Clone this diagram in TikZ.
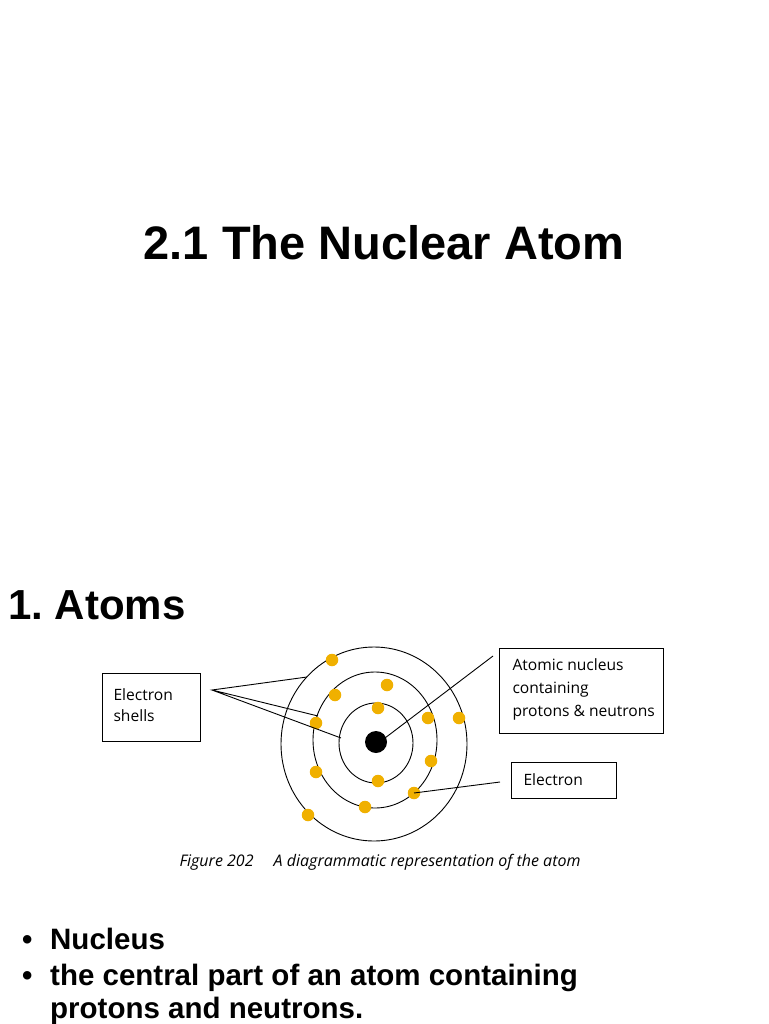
\documentclass[tikz,border=0pt]{standalone}
\usepackage{fontspec}
\setmainfont{Liberation Sans}
\newfontfamily\lab{Open Sans}
\begin{document}
\begin{tikzpicture}[x=1pt,y=-1pt,ln/.style={line width=0.9pt}]
\definecolor{elc}{RGB}{240,176,0}
\tikzset{el/.style={circle,fill=elc,minimum size=12.5pt,inner sep=0pt}}
\useasboundingbox (0,0) rectangle (768,1024);
\node[font=\bfseries\fontsize{47}{52}\selectfont] (title) at (384,243) {2.1 The Nuclear Atom};
\node[font=\bfseries\fontsize{42}{46}\selectfont,anchor=west,inner sep=0pt] (h1) at (8,605) {1.\ Atoms};
% shells
\draw[ln] (376,743) ellipse (37 and 40);
\draw[ln] (375,740) ellipse (62 and 68);
\draw[ln] (374,744) ellipse (93 and 97);
\node[circle,fill=black,minimum width=20pt,minimum height=22pt,inner sep=0pt] (nuc) at (376,742) {};
% electrons
\foreach \n/\p in {a/{332,660},b/{459,718},c/{308,815},d/{335,695},e/{387,685},f/{316,723},g/{428,718},h/{316,772},i/{431,761},j/{365,807},k/{414,793},l/{378,708},m/{378,781}}
  \node[el] (e\n) at (\p) {};
% boxes
\draw[ln] (102,673) rectangle (200,741);
\node[font=\lab\fontsize{15.6}{21}\selectfont,align=left,anchor=west] (bs) at (110,705) {Electron\\shells};
\draw[ln] (499,648) rectangle (663,733);
\node[font=\lab\fontsize{15.6}{23}\selectfont,align=left,anchor=west] (bn) at (509,689) {Atomic nucleus\\containing\\protons \& neutrons};
\draw[ln] (511,762) rectangle (616,798);
\node[font=\lab\fontsize{15.6}{19}\selectfont,anchor=west] (be) at (520,780) {Electron};
\coordinate (s0) at (212,690);
\coordinate (s1) at (307,677);
\coordinate (s2) at (318,716);
\coordinate (s3) at (341,738);
\coordinate (n1) at (385,738);
\coordinate (n2) at (493,656);
\coordinate (k2) at (500,782);
\draw[ln] (s1) -- (s0) -- (s2) (s0) -- (s3);
\draw[ln] (n1) -- (n2);
\draw[ln] (ek.center) -- (k2);
\node[font=\lab\itshape\fontsize{16}{18}\selectfont] (cap) at (380,862) {Figure 202\quad\ A diagrammatic representation of the atom};
% bullets
\node[font=\bfseries\fontsize{29.5}{33}\selectfont,align=left,anchor=north west,inner sep=0pt] (bul) at (22,928)
 {\makebox[28pt][l]{\textbullet}Nucleus\\[3pt]\makebox[28pt][l]{\textbullet}the central part of an atom containing\\\hspace*{28pt}protons and neutrons.};
\end{tikzpicture}
\end{document}
